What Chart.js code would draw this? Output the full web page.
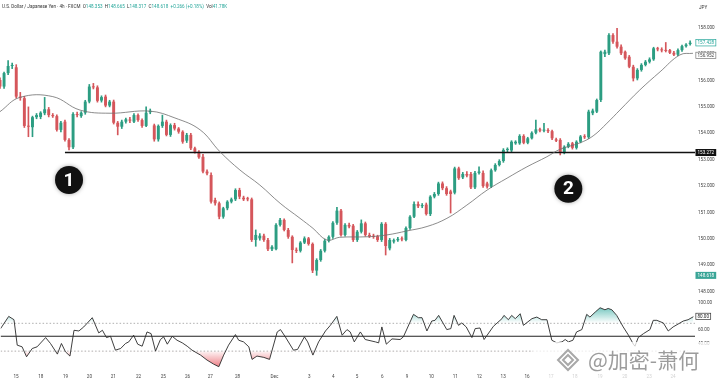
<!DOCTYPE html>
<html>
<head>
<meta charset="utf-8">
<script src="https://cdn.jsdelivr.net/npm/chart.js@4.4.1/dist/chart.umd.min.js"></script>
<style>
	body{margin:0;background:#fff;}
	#wrap{position:relative;width:720px;height:384px;overflow:hidden;background:#fff;}
	#price{position:absolute;left:0;top:0;}
	#rsi{position:absolute;left:0;top:284px;}
</style>
</head>
<body>
<div id="wrap">
	<canvas id="price" width="720" height="296"></canvas>
	<canvas id="rsi" width="720" height="100"></canvas>
</div>
<script>
// USD/JPY 4h candles, index 0 = leftmost bar
var opens = [156.02,155.77,156.28,156.55,156.50,155.39,155.33,154.28,154.23,154.61,
	154.62,154.76,154.91,154.69,154.65,154.13,154.44,153.75,153.47,154.73,
	154.65,154.78,155.20,155.77,155.74,155.24,155.39,155.05,155.20,154.40,
	154.25,154.44,154.52,154.44,154.69,154.50,154.28,154.80,154.30,153.77,
	154.28,154.44,153.94,154.31,154.18,154.06,153.72,153.94,153.43,153.30,
	153.11,152.55,152.42,151.47,151.35,150.84,151.16,151.41,151.50,151.85,
	151.56,151.51,151.50,149.96,150.02,150.12,149.96,149.61,149.61,150.53,
	150.72,150.34,150.08,149.58,149.55,149.86,150.02,149.81,148.80,149.20,
	149.55,149.93,150.08,150.61,151.07,150.15,150.53,150.50,149.96,150.27,
	150.59,150.15,150.10,150.10,149.96,150.57,149.64,149.90,149.95,150.00,
	149.96,150.41,150.84,151.32,151.24,151.30,150.94,151.60,151.70,152.10,
	151.92,151.80,151.75,152.67,152.33,152.46,152.46,151.95,152.50,152.50,
	152.10,151.98,152.60,152.80,152.95,153.37,153.35,153.62,153.62,153.90,
	153.64,153.81,154.02,154.15,154.10,154.12,154.08,153.77,153.75,153.27,
	153.49,153.62,153.45,153.68,153.88,153.85,154.76,154.82,155.26,157.00,
	157.03,157.72,157.47,157.28,157.09,156.90,156.52,156.08,156.40,156.59,
	156.71,156.80,157.22,157.18,157.16,157.15,157.05,156.98,157.15,157.30,157.38];
var highs = [156.10,156.32,156.75,156.66,156.60,155.55,155.40,155.00,154.65,154.75,
	154.82,155.36,154.98,154.75,154.70,154.45,154.50,153.80,154.78,154.80,
	154.82,155.25,155.85,155.89,155.80,155.42,155.45,155.25,155.26,154.45,
	154.50,154.58,154.60,154.75,154.74,154.55,155.00,154.92,154.35,154.32,
	154.69,154.50,154.36,154.38,154.22,154.10,154.00,154.00,153.48,153.35,
	153.20,152.62,152.50,151.55,151.40,151.20,151.45,151.55,151.90,151.92,
	151.62,151.58,151.55,150.34,150.20,150.18,150.02,149.75,150.58,150.78,
	150.76,150.40,150.12,149.66,149.90,150.08,150.06,149.85,149.25,149.60,
	149.98,150.12,150.66,151.20,151.12,150.58,150.60,150.55,150.32,150.72,
	150.64,150.22,150.18,150.14,150.62,150.62,150.02,150.00,150.06,150.08,
	150.46,150.88,151.40,151.40,151.34,151.36,151.64,151.76,152.15,152.16,
	151.98,151.85,152.72,152.72,152.52,152.55,152.52,152.56,152.73,152.58,
	152.15,152.65,152.85,153.00,153.42,153.45,153.72,153.72,153.95,153.95,
	153.85,154.06,154.50,154.20,154.38,154.18,154.12,153.82,153.80,153.53,
	153.65,153.66,153.72,153.92,153.95,154.88,154.92,155.30,157.12,157.15,
	157.78,157.78,157.98,157.35,157.12,156.95,156.58,156.45,156.64,156.76,
	156.86,157.26,157.26,157.24,157.44,157.18,157.10,157.20,157.34,157.40,157.50];
var lows = [155.70,155.70,156.22,156.45,155.33,155.25,154.22,153.87,153.87,154.55,
	154.55,154.70,154.62,154.60,154.08,154.05,153.70,153.37,153.42,154.62,
	154.60,154.72,155.15,155.68,155.18,155.18,155.00,155.00,154.35,153.94,
	154.18,154.38,154.40,154.40,154.45,154.22,154.25,154.74,153.70,153.70,
	154.22,153.90,153.88,154.12,154.00,153.62,153.65,153.38,153.25,153.05,
	152.50,152.42,151.35,151.28,150.76,150.78,151.10,151.36,151.45,151.52,
	151.45,151.44,149.90,149.72,149.95,149.90,149.55,149.55,149.58,150.48,
	150.30,150.02,149.09,149.48,149.50,149.82,149.76,148.72,148.62,149.15,
	149.50,149.88,150.02,150.55,150.10,150.10,150.42,149.90,149.90,150.22,
	150.10,150.05,150.02,149.90,149.90,149.39,149.58,149.84,149.90,149.92,
	149.92,150.36,150.80,151.18,151.18,150.90,150.88,151.55,151.65,151.86,
	151.65,150.98,151.70,152.25,152.28,152.35,151.90,151.90,152.45,151.95,
	151.92,151.94,152.56,152.76,152.90,153.30,153.30,153.58,153.58,153.60,
	153.60,153.78,153.98,154.05,154.05,154.02,153.76,153.68,153.18,153.22,
	153.45,153.40,153.40,153.64,153.80,153.80,154.70,154.78,155.20,156.90,
	156.98,157.40,157.22,156.98,156.80,156.48,155.98,156.02,156.35,156.55,
	156.66,156.76,157.12,157.08,157.08,157.02,156.94,156.94,157.10,157.26,157.34];
var closes = [155.77,156.28,156.55,156.58,155.39,155.35,154.28,154.25,154.61,154.69,
	154.78,154.91,154.69,154.65,154.13,154.40,153.75,153.47,154.73,154.69,
	154.78,155.20,155.77,155.74,155.23,155.37,155.05,155.20,154.40,154.25,
	154.44,154.53,154.48,154.69,154.50,154.28,154.78,154.85,153.77,154.28,
	154.44,153.94,154.31,154.18,154.06,153.68,153.94,153.43,153.30,153.09,
	152.55,152.48,151.41,151.35,150.84,151.16,151.41,151.50,151.85,151.60,
	151.50,151.50,149.96,150.15,150.12,149.96,149.61,149.70,150.53,150.72,
	150.34,150.08,149.58,149.55,149.86,150.02,149.81,148.80,149.20,149.55,
	149.93,150.08,150.61,151.07,150.15,150.53,150.47,149.96,150.27,150.59,
	150.15,150.10,150.08,149.96,150.57,149.73,149.96,149.95,150.00,149.98,
	150.41,150.84,151.32,151.24,151.28,150.94,151.60,151.70,152.10,151.92,
	151.70,151.70,152.67,152.30,152.46,152.40,151.95,152.50,152.55,152.00,
	151.98,152.60,152.80,152.95,153.37,153.40,153.68,153.68,153.90,153.64,
	153.81,154.02,154.15,154.10,154.13,154.08,153.81,153.72,153.27,153.49,
	153.60,153.45,153.68,153.88,153.85,154.82,154.86,155.26,157.09,157.09,
	157.72,157.47,157.28,157.03,156.84,156.52,156.08,156.40,156.59,156.71,
	156.80,157.22,157.18,157.14,157.12,157.05,156.98,157.15,157.30,157.36,157.43];

// moving average (thin grey line), read at bar positions
var maIdx = [0,4.9,13,19.7,27.1,36.9,43.1,49.3,54.2,59.1,64,69,73.9,77.1,80.5,83.7,90.4,95.3,100.2,105.2,110.1,115,120,124.9,129.8,134.7,137.9,142.9,146.1,149.5,152.7,157.6,162.6,167.5,170.7];
var maVal = [154.82,155.36,155.39,154.88,154.76,154.84,154.58,154.13,153.30,152.61,152.04,151.35,150.78,150.40,149.96,150.06,150.08,150.15,150.30,150.47,150.78,151.28,151.85,152.30,152.73,153.11,153.39,153.64,153.90,154.38,154.88,155.64,156.33,156.97,157.03];

// RSI pane
var rsiIdx = [0,2.0,3.3,4.1,5.3,6.4,7.8,9.0,11.1,12.3,14.0,15.0,16.0,17.1,18.1,19.3,20.5,22.6,24.2,25.1,
	26.1,27.1,28.3,29.6,30.8,31.6,32.8,33.8,34.9,36.1,37.1,38.2,39.4,40.2,41.1,42.3,43.5,44.8,46.0,47.2,
	49.3,50.9,52.5,53.8,55.0,56.2,57.9,58.7,59.9,61.2,62.0,63.2,64.9,66.3,68.2,69.0,70.2,72.2,73.2,74.9,
	75.7,77.0,78.4,80.1,81.3,82.9,84.2,85.4,86.2,87.2,88.7,
	89.9,92.4,93.2,94.0,95.1,96.5,98.5,99.3,101.8,103.0,103.9,105.1,106.3,107.1,108.0,110.0,111.0,111.8,112.9,113.7,
	114.8,116.2,117.0,118.2,119.2,121.5,123.6,124.1,125.2,126.0,126.9,128.1,128.9,131.0,132.2,133.4,134.7,135.9,137.1,138.4,
	139.2,140.0,141.1,142.0,143.3,144.5,145.3,146.6,147.8,149.0,149.8,150.7,151.9,153.5,154.8,156.0,156.4,157.2,158.5,160.1,
	160.9,161.8,163.4,164.6,165.8,167.5,168.3,169.5,170.8];
var rsiVal = [62.4,80,75.2,38.6,36.2,21.9,33.8,36.2,49.5,41,25.7,41,29,22.9,60,59,64.8,78.1,56.2,60,
	49.5,51.4,31.4,33.8,41,43.3,52.9,40,37.1,57.6,55.2,30,46.7,50.5,40,51.4,45.7,41.9,37.1,31.4,
	24.3,17.1,11.4,7.6,24.3,38.6,53.8,45.7,43.3,36.2,18.1,22.9,21,18.1,57.6,61,50.5,31.4,32.4,50.5,
	43.3,24.3,43.3,59,67.1,80,52.9,61,57.6,43.3,57.6,
	46.7,43.3,41.9,64.8,40,47.6,46.7,50.5,82.9,78.1,78.1,59,73.3,74.3,81.4,61,62.4,81.4,67.1,70.5,
	64.8,49.5,62.4,63.3,46.7,65.7,76.7,81.4,75.2,81.4,76.7,83.8,67.1,76.7,79,75.2,75.2,45.7,41.9,43.3,
	46.7,43.3,45.7,57.6,61,82.9,79,86.2,92.4,89.5,91.4,89.5,81.4,64.8,52.9,40,37.1,49.5,55.2,61,
	74.3,74.3,70.5,59,64.8,70.5,73.3,75.2,79.5];
var rsiBands = [70, 30];
var rsiLine = 51.4;

var dayLabels = ['15','18','19','20','21','22','25','26','27','28','Dec','3','4','5','6','9','10','11','12','13','16','17','18','19','20','23','24'];
var dayIdx = [3.8,9.9,16.0,21.9,27.8,34.0,40.1,46.1,51.7,58.4,67.5,76.1,82.0,87.9,94.1,100.2,106.2,112.1,118.0,123.9,129.8,135.7,141.6,147.8,153.9,159.9,165.8];
var priceTicks = [148,149,150,151,152,153,154,155,156,157,158];
var rsiTicks = [100,60,40];

var levelPrice = 153.272;
var levelFrom = 16;
var lastPrice = 157.428;
var maLast = 156.952;
var otherLast = 148.618;
var rsiLast = 80;
var markerText = ['1','2'];
var markerIdx = [17.0, 140.0];
var markerPrice = [152.23, 151.90];

var xMin = 0, xMax = 171.2;
var upColor = '#2c9d82', downColor = '#d5565b';
var font = 'Roboto, "Noto Sans", sans-serif';

var idx = opens.map(function(v,i){return i;});
var colors = idx.map(function(i){return closes[i] >= opens[i] ? upColor : downColor;});

function pts(xs, ys){
	return xs.map(function(x,k){return {x:x, y:ys[k]};});
}

function tag(ctx, area, y, text, bg, border, color){
	ctx.save();
	ctx.font = '4.6px ' + font;
	var w = ctx.measureText(text).width + 4;
	var x = area.right + 0.5;
	ctx.fillStyle = bg;
	ctx.fillRect(x, y - 3.5, w, 7);
	if(border){
		ctx.strokeStyle = border;
		ctx.lineWidth = 0.7;
		ctx.strokeRect(x + 0.35, y - 3.15, w - 0.7, 6.3);
	}
	ctx.fillStyle = color;
	ctx.textBaseline = 'middle';
	ctx.textAlign = 'left';
	ctx.fillText(text, x + 2, y + 0.3);
	ctx.restore();
}

var pricePlugin = {
	id:'priceExtras',
	afterDraw:function(chart){
		var ctx = chart.ctx, area = chart.chartArea;
		var xs = chart.scales.x, ys = chart.scales.y;
		ctx.save();
		// header
		ctx.font = '4.6px ' + font;
		ctx.textBaseline = 'alphabetic';
		var parts = [['U.S. Dollar / Japanese Yen \u00b7 4h \u00b7 FXCM  ','#333'],['O','#333'],['148.353  ','#26a69a'],['H','#333'],['148.665  ','#26a69a'],
			['L','#333'],['148.317  ','#26a69a'],['C','#333'],['148.618  ','#26a69a'],['+0.266 (+0.18%)  ','#26a69a'],['Vol','#333'],['41.78K','#26a69a']];
		var hx = 2;
		parts.forEach(function(p){
			ctx.fillStyle = p[1];
			ctx.fillText(p[0], hx, 7.5);
			hx += ctx.measureText(p[0]).width;
		});
		ctx.fillStyle = '#333';
		ctx.fillText('JPY', 699, 8.5);
		// numbered markers
		for(var k=0;k<markerText.length;k++){
			var cx = xs.getPixelForValue(markerIdx[k]);
			var cy = ys.getPixelForValue(markerPrice[k]);
			ctx.save();
			ctx.shadowColor = 'rgba(0,0,0,0.35)';
			ctx.shadowBlur = 4;
			ctx.fillStyle = '#111';
			ctx.beginPath();
			ctx.arc(cx, cy, 14, 0, Math.PI*2);
			ctx.fill();
			ctx.restore();
			ctx.fillStyle = '#fff';
			ctx.font = 'bold 19px ' + font;
			ctx.textAlign = 'center';
			ctx.textBaseline = 'middle';
			ctx.fillText(markerText[k], cx, cy + 1);
		}
		ctx.restore();
		tag(ctx, area, ys.getPixelForValue(lastPrice), lastPrice.toFixed(3), '#fff', '#26a69a', '#26a69a');
		tag(ctx, area, ys.getPixelForValue(maLast), maLast.toFixed(3), '#fff', '#777', '#444');
		tag(ctx, area, ys.getPixelForValue(levelPrice), levelPrice.toFixed(3), '#111', null, '#fff');
		tag(ctx, area, ys.getPixelForValue(otherLast), otherLast.toFixed(3), '#3aa597', null, '#fff');
	}
};

var rsiPlugin = {
	id:'rsiExtras',
	afterDraw:function(chart){
		var ctx = chart.ctx, area = chart.chartArea;
		var ys = chart.scales.y;
		tag(ctx, area, ys.getPixelForValue(rsiLast), rsiLast.toFixed(2), '#fff', '#333', '#222');
		// watermark
		ctx.save();
		ctx.fillStyle = 'rgba(255,255,255,0.75)';
		ctx.fillRect(533, 58, 187, 42);
		ctx.strokeStyle = '#a8a8a8';
		ctx.lineWidth = 2;
		ctx.beginPath();
		ctx.moveTo(568, 66); ctx.lineTo(578, 76); ctx.lineTo(568, 86); ctx.lineTo(558, 76); ctx.closePath();
		ctx.stroke();
		ctx.beginPath();
		ctx.moveTo(568, 71); ctx.lineTo(573, 76); ctx.lineTo(568, 81); ctx.lineTo(563, 76); ctx.closePath();
		ctx.stroke();
		ctx.font = '21px "Noto Sans CJK SC", sans-serif';
		ctx.textBaseline = 'alphabetic';
		ctx.lineWidth = 3;
		ctx.strokeStyle = '#fff';
		ctx.strokeText('@加密-萧何', 588, 84);
		ctx.fillStyle = '#9c9c9c';
		ctx.fillText('@加密-萧何', 588, 84);
		ctx.restore();
	}
};

var priceChart = new Chart(document.getElementById('price'), {
	type:'bar',
	data:{
		datasets:[
			{type:'line', data:pts(maIdx, maVal), borderColor:'#6f6f6f', borderWidth:0.8, pointRadius:0, tension:0.4, order:0},
			{type:'line', data:[{x:levelFrom, y:levelPrice},{x:xMax, y:levelPrice}], borderColor:'#111', borderWidth:1.5, pointRadius:0, order:0},
			{data:idx.map(function(i){return {x:i, y:[opens[i], closes[i]]};}), backgroundColor:colors, barPercentage:0.72, categoryPercentage:1, minBarLength:1, grouped:false, order:1},
			{data:idx.map(function(i){return {x:i, y:[lows[i], highs[i]]};}), backgroundColor:colors, barThickness:1, grouped:false, order:2}
		]
	},
	options:{
		responsive:false,
		animation:false,
		devicePixelRatio:1,
		layout:{padding:0},
		plugins:{legend:{display:false}, tooltip:{enabled:false}},
		scales:{
			x:{type:'linear', min:xMin, max:xMax, display:false, offset:false},
			y:{
				position:'right', min:147.837, max:159.049,
				grid:{display:false, drawTicks:false}, border:{display:false},
				afterBuildTicks:function(s){ s.ticks = priceTicks.map(function(v){return {value:v};}); },
				ticks:{font:{size:4.6, family:font}, color:'#444', padding:3, autoSkip:false, callback:function(v){return v.toFixed(3);}},
				afterFit:function(s){ s.width = 25; s.paddingTop = 0; s.paddingBottom = 0; }
			}
		}
	},
	plugins:[pricePlugin]
});

var rsiPts = pts(rsiIdx, rsiVal);
var rsiChart = new Chart(document.getElementById('rsi'), {
	type:'line',
	data:{
		datasets:[
			{data:rsiPts, borderColor:'#2a2a2a', borderWidth:0.9, pointRadius:0, tension:0, fill:false},
			{data:rsiPts, borderWidth:0, borderColor:'rgba(0,0,0,0)', pointRadius:0, tension:0, fill:{target:{value:rsiBands[0]}, above:'rgba(38,166,154,0.3)', below:'rgba(0,0,0,0)'}},
			{data:rsiPts, borderWidth:0, borderColor:'rgba(0,0,0,0)', pointRadius:0, tension:0, fill:{target:{value:rsiBands[1]}, above:'rgba(0,0,0,0)', below:'rgba(226,70,80,0.4)'}},
			{data:[{x:xMin, y:rsiBands[0]},{x:xMax, y:rsiBands[0]}], borderColor:'#9a9a9a', borderWidth:0.8, borderDash:[1.5,2], pointRadius:0},
			{data:[{x:xMin, y:rsiBands[1]},{x:xMax, y:rsiBands[1]}], borderColor:'#9a9a9a', borderWidth:0.8, borderDash:[1.5,2], pointRadius:0},
			{data:[{x:xMin, y:rsiLine},{x:xMax, y:rsiLine}], borderColor:'#222', borderWidth:1.2, pointRadius:0}
		]
	},
	options:{
		responsive:false,
		animation:false,
		devicePixelRatio:1,
		layout:{padding:0},
		plugins:{legend:{display:false}, tooltip:{enabled:false}},
		scales:{
			x:{
				type:'linear', min:xMin, max:xMax, offset:false,
				grid:{display:false, drawTicks:false}, border:{display:false},
				afterBuildTicks:function(s){ s.ticks = dayIdx.map(function(v){return {value:v};}); },
				ticks:{font:{size:4.6, family:font}, color:'#444', padding:4, autoSkip:false, maxRotation:0,
					callback:function(v){ var k = dayIdx.indexOf(v); return k >= 0 ? dayLabels[k] : ''; }},
				afterFit:function(s){ s.height = 14; s.paddingLeft = 0; s.paddingRight = 0; }
			},
			y:{
				position:'right', min:2.86, max:125.71,
				grid:{display:false, drawTicks:false}, border:{display:false},
				afterBuildTicks:function(s){ s.ticks = rsiTicks.map(function(v){return {value:v};}); },
				ticks:{font:{size:4.6, family:font}, color:'#444', padding:3, autoSkip:false, callback:function(v){return v.toFixed(2);}},
				afterFit:function(s){ s.width = 25; s.paddingTop = 0; s.paddingBottom = 0; }
			}
		}
	},
	plugins:[rsiPlugin]
});

// overbought / oversold fills fade toward the band lines
(function(){
	var ys = rsiChart.scales.y, ctx = rsiChart.ctx;
	var g1 = ctx.createLinearGradient(0, ys.getPixelForValue(100), 0, ys.getPixelForValue(rsiBands[0]));
	g1.addColorStop(0, 'rgba(38,166,154,0.85)');
	g1.addColorStop(1, 'rgba(38,166,154,0)');
	var g2 = ctx.createLinearGradient(0, ys.getPixelForValue(rsiBands[1]), 0, ys.getPixelForValue(0));
	g2.addColorStop(0, 'rgba(230,70,80,0.05)');
	g2.addColorStop(1, 'rgba(230,70,80,0.9)');
	rsiChart.data.datasets[1].fill.above = g1;
	rsiChart.data.datasets[2].fill.below = g2;
	rsiChart.update();
})();
</script>
</body>
</html>
